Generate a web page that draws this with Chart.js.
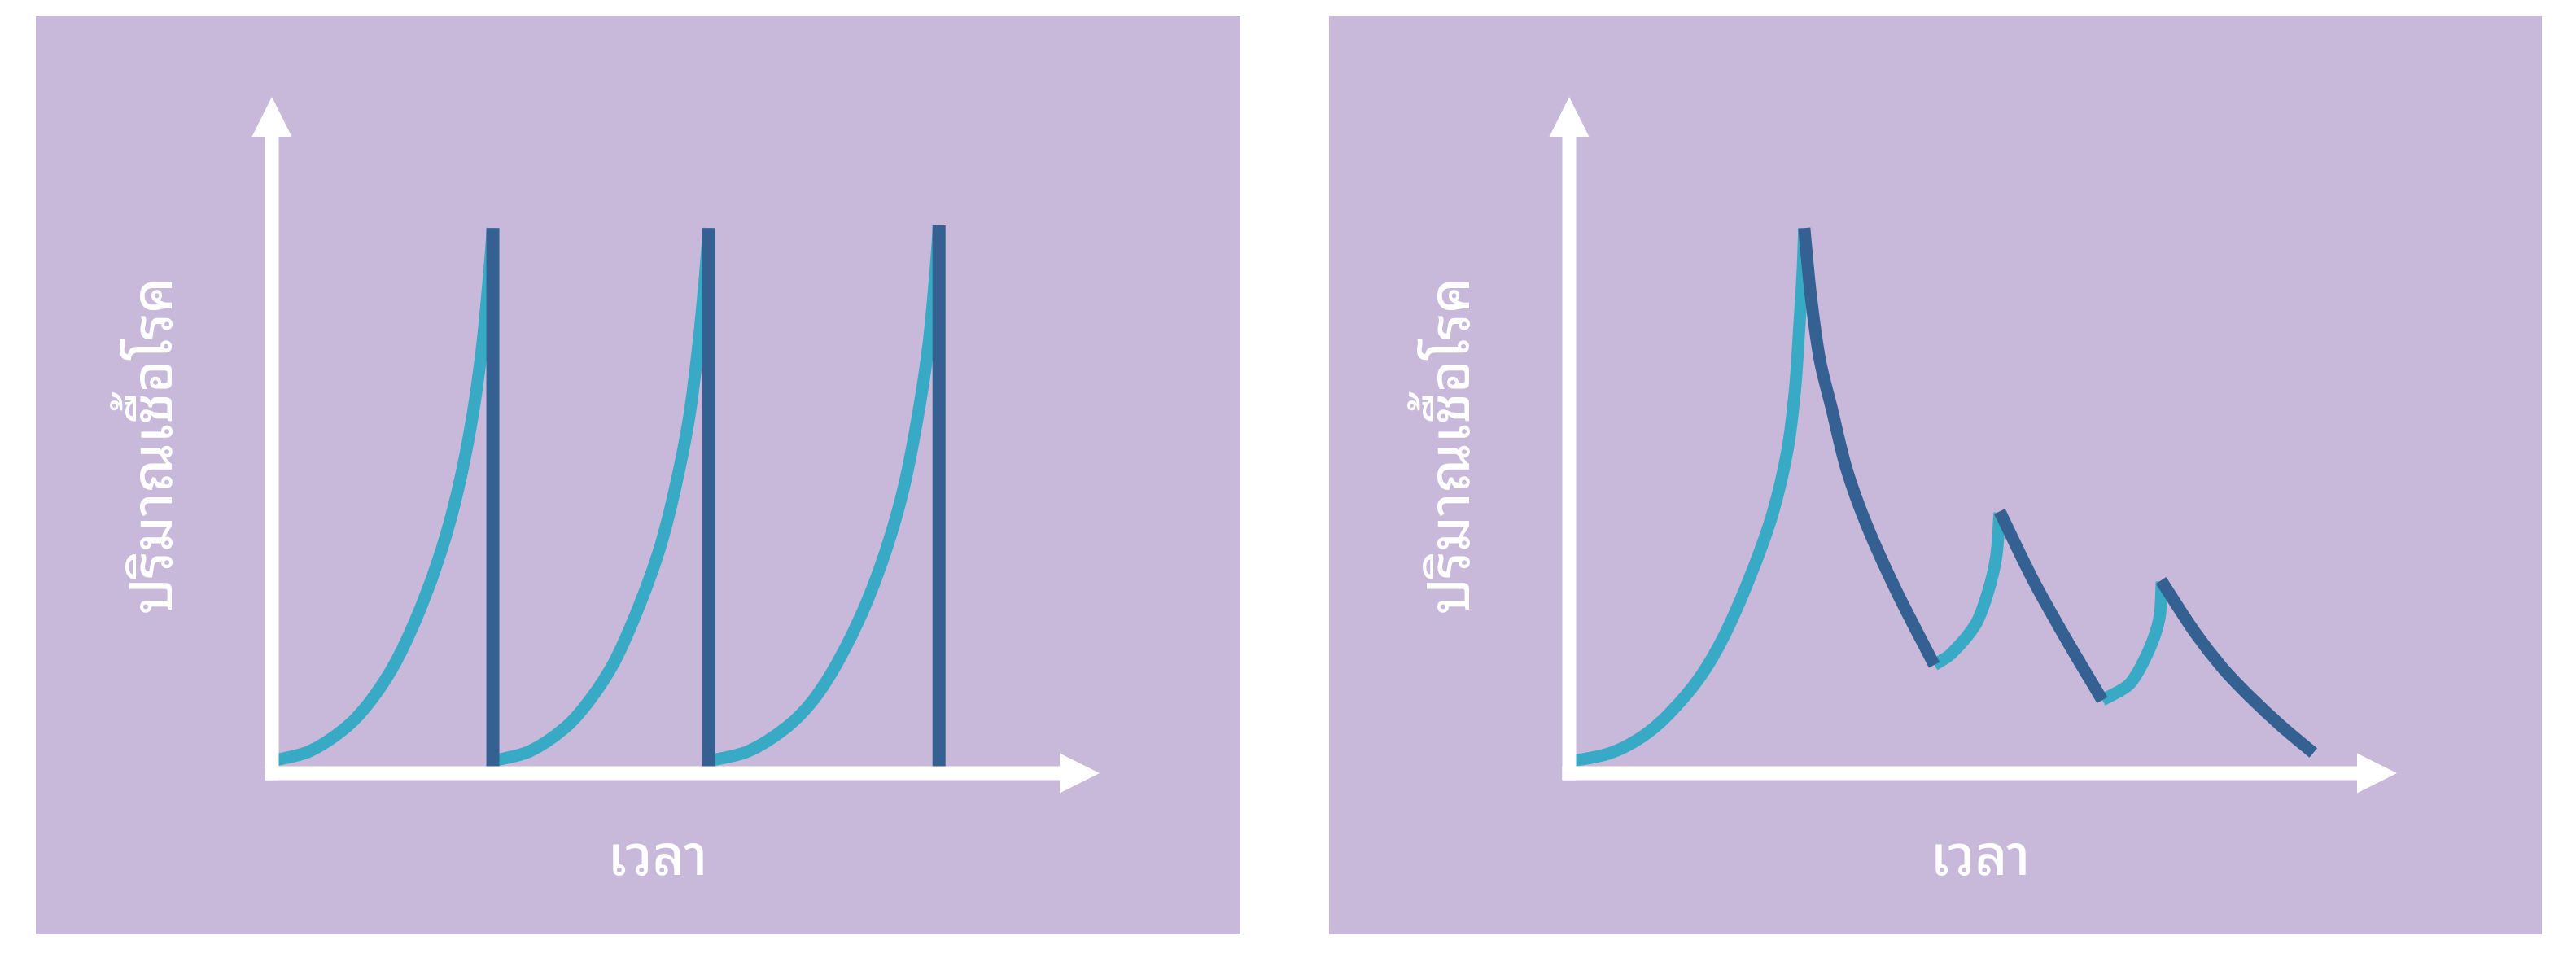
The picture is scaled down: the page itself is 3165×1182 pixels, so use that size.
<!DOCTYPE html>
<html>
<head>
<meta charset="utf-8">
<script src="https://cdn.jsdelivr.net/npm/chart.js@4.4.1/dist/chart.umd.min.js"></script>
<style>
  body { margin: 0; background: #ffffff; width: 3165px; height: 1182px; position: relative; overflow: hidden; }
  canvas { position: absolute; }
  #left { left: 44px; top: 20px; }
  #right { left: 1633px; top: 20px; }
</style>
</head>
<body>
<canvas id="left" width="1480" height="1128"></canvas>
<canvas id="right" width="1490" height="1128"></canvas>
<script>
// Axis labels
const xLabel = 'เวลา';
const yLabel = 'ปริมาณเชื้อโรค';

// Left panel: repeated doses (time 0-100, amount 0-100)
const leftRise1X = [0, 4.5, 9.0, 12.0, 15.0, 18.0, 20.5, 22.5, 24.2, 25.4, 26.2, 26.7];
const leftRise1Y = [1.8, 3.2, 6.8, 10.8, 16.5, 24.5, 33.0, 42.0, 52.5, 63.0, 73.0, 80.6];
const leftRise2X = [26.7, 31.1, 35.5, 38.4, 41.4, 44.3, 46.8, 48.7, 50.4, 51.5, 52.3, 52.8];
const leftRise2Y = [1.8, 3.2, 6.8, 10.8, 16.5, 24.5, 33.0, 42.0, 52.5, 63.0, 73.0, 80.6];
const leftRise3X = [52.8, 57.5, 62.2, 65.4, 68.4, 71.6, 74.2, 76.3, 78.0, 79.3, 80.1, 80.6];
const leftRise3Y = [1.8, 3.2, 6.8, 10.8, 16.5, 24.5, 33.0, 42.0, 52.5, 63.0, 73.0, 81.0];
const leftDoseX = [26.7, 52.8, 80.6];
const leftDoseTop = [80.6, 80.6, 81.0];

// Right panel: rise and fall
const rightRise1X = [0, 4.8, 8.7, 12.0, 15.8, 18.8, 22.0, 24.6, 26.4, 27.3, 27.8, 28.2, 28.4];
const rightRise1Y = [1.7, 2.9, 5.3, 8.7, 14.2, 20.5, 29.5, 38.5, 48.0, 57.0, 66.0, 74.0, 80.6];
const rightFall1X = [28.4, 29.2, 30.3, 31.7, 33.5, 36.0, 39.5, 44.1];
const rightFall1Y = [80.6, 70.5, 61.0, 54.0, 45.0, 36.5, 27.0, 16.0];
const rightRise2X = [44.1, 46.1, 49.1, 50.6, 51.6, 52.0];
const rightRise2Y = [16.0, 17.6, 22.0, 26.8, 32.1, 38.5];
const rightFall2X = [52.0, 55.9, 59.9, 64.4];
const rightFall2Y = [38.7, 28.9, 20.1, 10.8];
const rightRise3X = [64.4, 67.7, 70.0, 71.3, 71.6];
const rightRise3Y = [10.8, 13.2, 18.1, 22.9, 28.3];
const rightFall3X = [71.5, 75.6, 78.9, 82.0, 86.0, 89.9];
const rightFall3Y = [28.5, 20.8, 15.6, 11.6, 7.0, 3.0];

const PURPLE = '#c8b9da';
const TEAL = '#38aac5';
const DARK = '#346092';
const FONT = "'Noto Sans Thai Looped', 'Loma', 'Garuda', 'Waree', 'Norasi', 'Kinnari', 'Sarabun', 'Noto Serif Thai', 'Noto Sans Thai', sans-serif";

const toPoints = (xs, ys) => xs.map((x, i) => ({ x: x, y: ys[i] }));

// teal = rising part, drawn under the dark lines
const curve = (xs, ys, color, order) => ({
    data: toPoints(xs, ys),
    borderColor: color,
    borderWidth: 15,
    pointRadius: 0,
    tension: 0.3,
    borderCapStyle: 'butt',
    borderJoinStyle: 'round',
    order: order,
    clip: false
});

const straight = (xs, ys, color) => ({
    data: toPoints(xs, ys),
    borderColor: color,
    borderWidth: 16,
    pointRadius: 0,
    tension: 0,
    borderCapStyle: 'butt',
    order: 0,
    clip: false
});

// background, white arrow axes and labels
const decor = {
    id: 'decor',
    beforeDraw(chart) {
        const ctx = chart.ctx;
        ctx.save();
        ctx.fillStyle = PURPLE;
        ctx.fillRect(0, 0, chart.width, chart.height);
        ctx.restore();
    },
    afterDatasetsDraw(chart, args, opts) {
        const ctx = chart.ctx;
        const { left, right, top, bottom } = chart.chartArea;
        const lw = 17, ah = 49, half = 24.5;
        ctx.save();
        ctx.fillStyle = '#ffffff';
        ctx.fillRect(left - lw / 2, top + ah - 1, lw, bottom + lw / 2 - (top + ah - 1));
        ctx.fillRect(left - lw / 2, bottom - lw / 2, right - ah + 1 - (left - lw / 2), lw);
        ctx.beginPath();
        ctx.moveTo(left, top);
        ctx.lineTo(left - half, top + ah);
        ctx.lineTo(left + half, top + ah);
        ctx.closePath();
        ctx.fill();
        ctx.beginPath();
        ctx.moveTo(right, bottom);
        ctx.lineTo(right - ah, bottom - half);
        ctx.lineTo(right - ah, bottom + half);
        ctx.closePath();
        ctx.fill();

        ctx.font = '500 ' + opts.fontSize + 'px ' + FONT;
        ctx.textAlign = 'center';
        ctx.textBaseline = 'middle';
        ctx.fillText(xLabel, left + opts.xLabelDx, bottom + opts.xLabelDy);
        ctx.translate(left - opts.yLabelDx, top + opts.yLabelDy);
        ctx.rotate(-Math.PI / 2);
        ctx.fillText(yLabel, 0, 0);
        ctx.restore();
    }
};

const makeChart = (id, datasets, pad, labelPos) => new Chart(document.getElementById(id), {
    type: 'line',
    data: { datasets: datasets },
    options: {
        responsive: false,
        animation: false,
        events: [],
        layout: { padding: pad },
        scales: {
            x: { type: 'linear', min: 0, max: 100, display: false },
            y: { type: 'linear', min: 0, max: 100, display: false }
        },
        plugins: {
            legend: { display: false },
            tooltip: { enabled: false },
            decor: labelPos
        }
    },
    plugins: [decor]
});

const leftSets = [
    curve(leftRise1X, leftRise1Y, TEAL, 1),
    curve(leftRise2X, leftRise2Y, TEAL, 1),
    curve(leftRise3X, leftRise3Y, TEAL, 1)
];
leftDoseX.forEach((x, i) => {
    leftSets.push(straight([x, x], [0, leftDoseTop[i]], DARK));
});

makeChart('left', leftSets,
    { left: 290, right: 173, top: 99, bottom: 198 },
    { fontSize: 68, xLabelDx: 474, xLabelDy: 106, yLabelDx: 142, yLabelDy: 429 });

makeChart('right', [
    curve(rightRise1X, rightRise1Y, TEAL, 1),
    curve(rightRise2X, rightRise2Y, TEAL, 1),
    curve(rightRise3X, rightRise3Y, TEAL, 1),
    curve(rightFall1X, rightFall1Y, DARK, 0),
    curve(rightFall2X, rightFall2Y, DARK, 0),
    curve(rightFall3X, rightFall3Y, DARK, 0)
], { left: 295, right: 178, top: 99, bottom: 198 },
    { fontSize: 68, xLabelDx: 505, xLabelDy: 106, yLabelDx: 142, yLabelDy: 429 });
</script>
</body>
</html>
